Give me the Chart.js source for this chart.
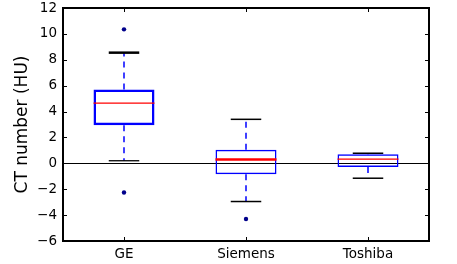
<!DOCTYPE html>
<html>
<head>
<meta charset="utf-8">
<script src="https://cdn.jsdelivr.net/npm/chart.js@4"></script>
<style>
  html, body { margin: 0; padding: 0; background: #fff; }
  #wrap { width: 457px; height: 264px; }
</style>
</head>
<body>
<div id="wrap"><canvas id="c"></canvas></div>
<script>
// box plot data
const categories = ['GE', 'Siemens', 'Toshiba'];
const q1 = [2.95, -0.85, -0.28];
const q3 = [5.7, 1.05, 0.7];
const medians = [4.65, 0.3, 0.32];
const whiskerLow = [0.2, -2.95, -1.15];
const whiskerHigh = [8.55, 3.4, 0.78];
const outliers = [[10.35, -2.25], [-4.3], []];
const yTicks = [-6, -4, -2, 0, 2, 4, 6, 8, 10, 12];

const blue = '#0000ff';
// line weights differ a little box to box in the original
const boxLine = [2.5, 1.5, 1.5];
const medianLine = [1.2, 2.5, 1.2];
const capHighLine = [2.5, 1.5, 1.5];
const capLowLine = [1.3, 1.5, 1.5];

// whiskers, caps, medians, outliers, frame and inside ticks
const boxExtras = {
    id: 'boxExtras',
    afterDatasetsDraw(chart) {
        const ctx = chart.ctx;
        const xs = chart.scales.x, ys = chart.scales.y;
        const area = chart.chartArea;
        const meta = chart.getDatasetMeta(0);
        ctx.save();
        categories.forEach((cat, i) => {
            const bar = meta.data[i];
            const cx = bar.x;
            const half = bar.width / 2;
            // whiskers
            ctx.strokeStyle = blue;
            ctx.lineWidth = 1.5;
            ctx.setLineDash([6, 5]);
            ctx.beginPath();
            ctx.moveTo(cx, ys.getPixelForValue(q3[i]));
            ctx.lineTo(cx, ys.getPixelForValue(whiskerHigh[i]));
            ctx.moveTo(cx, ys.getPixelForValue(q1[i]));
            ctx.lineTo(cx, ys.getPixelForValue(whiskerLow[i]));
            ctx.stroke();
            ctx.setLineDash([]);
            // caps
            ctx.strokeStyle = '#000';
            [[whiskerHigh[i], capHighLine[i]], [whiskerLow[i], capLowLine[i]]].forEach(([v, w]) => {
                const py = ys.getPixelForValue(v);
                ctx.lineWidth = w;
                ctx.beginPath();
                ctx.moveTo(cx - half / 2, py);
                ctx.lineTo(cx + half / 2, py);
                ctx.stroke();
            });
            // median
            ctx.strokeStyle = '#ff0000';
            ctx.lineWidth = medianLine[i];
            ctx.beginPath();
            const my = ys.getPixelForValue(medians[i]);
            ctx.moveTo(cx - half, my);
            ctx.lineTo(cx + half, my);
            ctx.stroke();
            // outliers
            ctx.fillStyle = '#00008b';
            outliers[i].forEach(v => {
                ctx.beginPath();
                ctx.arc(cx, ys.getPixelForValue(v), 2.2, 0, Math.PI * 2);
                ctx.fill();
            });
        });
        // inside tick marks
        ctx.strokeStyle = '#000';
        ctx.lineWidth = 1;
        ctx.beginPath();
        yTicks.forEach(v => {
            const py = Math.round(ys.getPixelForValue(v)) + 0.5;
            ctx.moveTo(area.left, py); ctx.lineTo(area.left + 4, py);
            ctx.moveTo(area.right, py); ctx.lineTo(area.right - 4, py);
        });
        categories.forEach((cat, i) => {
            const px = Math.round(xs.getPixelForValue(i)) + 0.5;
            ctx.moveTo(px, area.bottom); ctx.lineTo(px, area.bottom - 4);
            ctx.moveTo(px, area.top); ctx.lineTo(px, area.top + 4);
        });
        ctx.stroke();
        // frame
        ctx.lineWidth = 2;
        ctx.strokeRect(area.left, area.top, area.right - area.left, area.bottom - area.top);
        ctx.restore();
    }
};

new Chart(document.getElementById('c'), {
    type: 'bar',
    data: {
        labels: categories,
        datasets: [{
            data: categories.map((c, i) => [q1[i], q3[i]]),
            backgroundColor: 'rgba(0,0,0,0)',
            borderColor: blue,
            borderWidth: boxLine,
            borderSkipped: false,
            categoryPercentage: 1,
            barPercentage: 0.5
        }]
    },
    options: {
        responsive: true,
        maintainAspectRatio: false,
        animation: false,
        layout: { padding: { top: 8, right: 28, left: 0, bottom: 0 } },
        plugins: { legend: { display: false }, tooltip: { enabled: false } },
        scales: {
            x: {
                grid: { display: false, drawTicks: false },
                border: { display: false },
                ticks: { color: '#000', padding: 5, font: { family: 'DejaVu Sans', size: 13.5 } },
                afterFit: s => { s.height = 23; s.paddingLeft = 0; s.paddingRight = 0; }
            },
            y: {
                min: -6,
                max: 12,
                afterBuildTicks: s => { s.ticks = yTicks.map(v => ({ value: v })); },
                grid: {
                    drawTicks: false,
                    color: c => (c.tick && c.tick.value === 0) ? '#000' : 'rgba(0,0,0,0)',
                    lineWidth: 1
                },
                border: { display: false },
                ticks: {
                    color: '#000',
                    padding: 6,
                    font: { family: 'DejaVu Sans', size: 13.5 },
                    callback: v => String(v).replace('-', '\u2212')
                },
                title: {
                    display: true,
                    text: 'CT number (HU)',
                    color: '#000',
                    font: { family: 'DejaVu Sans', size: 17 },
                    padding: { top: 12, bottom: 0 }
                },
                afterFit: s => { s.width = 63; s.paddingTop = 0; s.paddingBottom = 0; }
            }
        }
    },
    plugins: [boxExtras]
});
</script>
</body>
</html>
